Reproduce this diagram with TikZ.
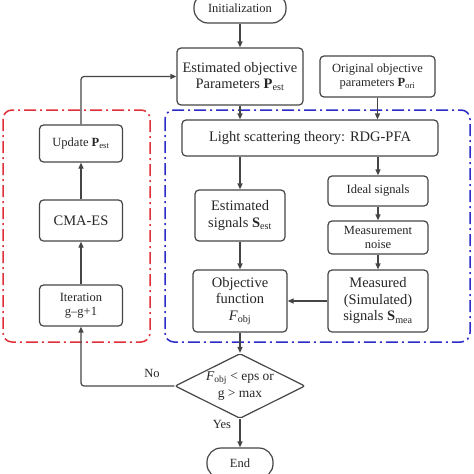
\documentclass[tikz,border=0pt]{standalone}
\usepackage{fontspec}
\setmainfont{Liberation Serif}
\usetikzlibrary{arrows.meta, shapes.geometric, calc}
\definecolor{Frame}{HTML}{454545}
\definecolor{LoopRed}{HTML}{E0303A}
\definecolor{ModelBlue}{HTML}{2B2BC8}
\newcommand{\bigtxt}{\fontsize{14.5}{16.5}\selectfont}
\newcommand{\smalltxt}{\fontsize{12.5}{14.5}\selectfont}

\begin{document}
\begin{tikzpicture}[x=1pt, y=-1pt,
    box/.style={draw=Frame, line width=1.2pt, rounded corners=4pt, align=center, inner sep=2pt, text=black!85},
    terminal/.style={box, rounded corners=14pt, minimum height=30pt, font=\smalltxt},
    flow/.style={draw=Frame, line width=1.2pt, -{Triangle[length=6pt, width=5pt]}},
    group/.style={line width=1.5pt, rounded corners=9pt, dash pattern=on 12pt off 4pt on 2pt off 4pt}]
    \useasboundingbox (0,0) rectangle (474,474);

    % dashed groups
    \draw[group, LoopRed] (3,110) rectangle (150,342);
    \draw[group, ModelBlue] (165,110) rectangle (470,342);

    % main column
    \node[terminal, minimum width=92pt] (init) at (240,8) {Initialization};
    \node[box, font=\bigtxt, minimum width=126pt, minimum height=57pt] (est) at (240,76.5) {Estimated objective\\Parameters \textbf{P}\textsubscript{est}};
    \node[box, font=\smalltxt, minimum width=115pt, minimum height=41pt] (ori) at (377.5,76.5) {Original objective\\parameters \textbf{P}\textsubscript{ori}};
    \node[box, font=\bigtxt, minimum width=256pt, minimum height=36pt] (light) at (310,138) {Light scattering theory: RDG-PFA};

    % model branch
    \node[box, font=\bigtxt, minimum width=90pt, minimum height=51pt] (estsig) at (240,215.5) {Estimated\\signals \textbf{S}\textsubscript{est}};
    \node[box, font=\smalltxt, minimum width=100pt, minimum height=30pt] (ideal) at (378,191) {Ideal signals};
    \node[box, font=\smalltxt, minimum width=100pt, minimum height=33pt] (noise) at (378,237.5) {Measurement\\noise};
    \node[box, font=\bigtxt, minimum width=100pt, minimum height=62pt] (meas) at (378,301) {Measured\\(Simulated)\\signals \textbf{S}\textsubscript{mea}};
    \node[box, font=\bigtxt, minimum width=94pt, minimum height=62pt] (obj) at (240,301) {Objective\\function\\\textit{F}\textsubscript{obj}};

    % optimiser loop
    \node[box, font=\smalltxt, minimum width=83pt, minimum height=37pt] (update) at (81,143.5) {Update \textbf{P}\textsubscript{est}};
    \node[box, font=\bigtxt, minimum width=83pt, minimum height=41pt] (cma) at (81,220.5) {CMA-ES};
    \node[box, font=\smalltxt, minimum width=83pt, minimum height=41pt] (iter) at (81,305.5) {Iteration\\g–g+1};

    % decision and end
    \node[box, diamond, aspect=2, rounded corners=2pt, font=\fontsize{13.5}{17.5}\selectfont, inner xsep=-6pt, inner ysep=-6pt, minimum width=130pt, minimum height=65pt] (check) at (240,386) {\textit{F}\textsubscript{obj} < eps or\\g > max};
    \node[terminal, minimum width=66pt] (finish) at (240,463) {End};
    \node[font=\smalltxt, text=black!85] (nolbl) at (152,373) {No};
    \node[font=\smalltxt, text=black!85] (yeslbl) at (222,424) {Yes};

    % connectors
    \draw[flow] (init) -- (est);
    \draw[flow] (est.south) -- (light.north -| est.south);
    \draw[flow] (ori.south) -- (light.north -| ori.south);
    \draw[flow] (light.south -| estsig.north) -- (estsig);
    \draw[flow] (light.south -| ideal.north) -- (ideal);
    \draw[flow] (ideal) -- (noise);
    \draw[flow] (noise) -- (meas);
    \draw[flow] (estsig) -- (obj);
    \draw[flow] (meas) -- (obj);
    \draw[flow] (obj) -- (check);
    \draw[flow] (check) -- (finish);
    \draw[flow, rounded corners=3pt] (check.west) -| (iter.south);
    \draw[flow] (iter) -- (cma);
    \draw[flow] (cma) -- (update);
    \draw[flow, rounded corners=3pt] (update.north) |- (est.west);
\end{tikzpicture}
\end{document}
